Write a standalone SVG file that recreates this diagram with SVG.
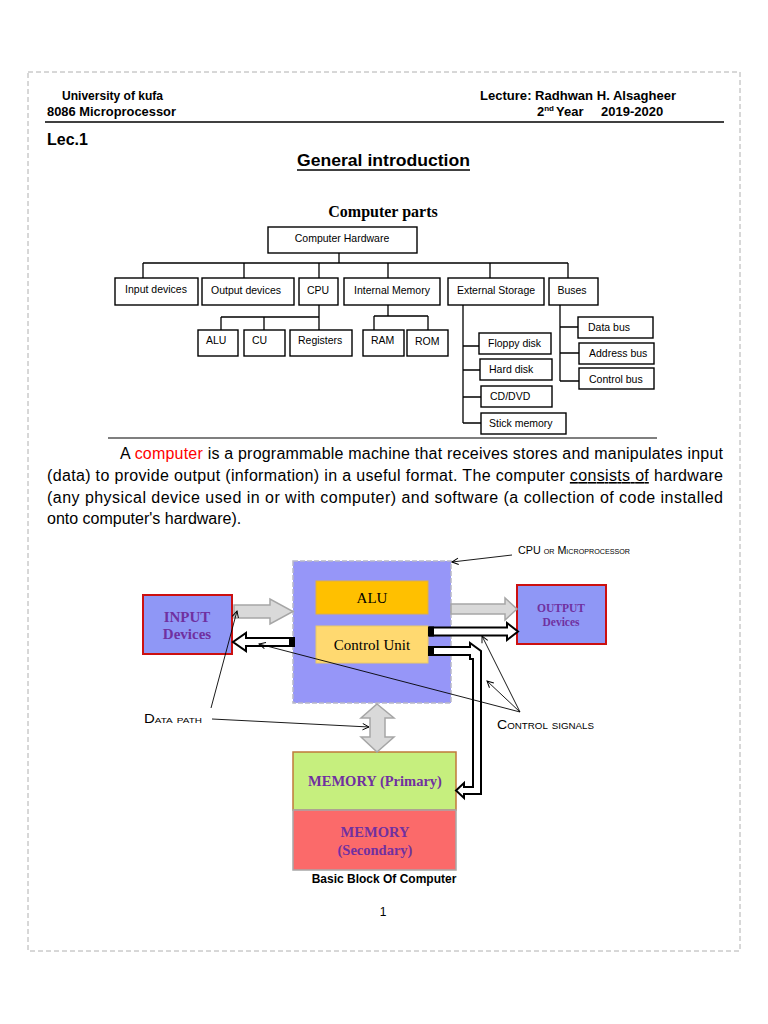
<svg xmlns="http://www.w3.org/2000/svg" width="768" height="1024" viewBox="0 0 768 1024">
<defs>
<style>
.hd{font-family:"Liberation Sans",Arial,sans-serif;font-weight:bold;fill:#000}
.tb{fill:#fff;stroke:#000;stroke-width:1.4}
.tt{font-family:"Liberation Sans",Arial,sans-serif;font-size:10.5px;fill:#000}
.tl{fill:none;stroke:#000;stroke-width:1.3}
.para{font-family:"Liberation Sans",Arial,sans-serif;font-size:16px;fill:#000}
.ser{font-family:"Liberation Serif","Times New Roman",serif}
.pur{font-family:"Liberation Serif","Times New Roman",serif;font-weight:bold;fill:#7030a0;text-anchor:middle}
.lbl{font-family:"Liberation Sans",Arial,sans-serif;font-variant:small-caps;fill:#000}
.thin{fill:none;stroke:#000;stroke-width:0.9}
.gray{fill:#d9d9d9;stroke:#a6a6a6;stroke-width:1.5}
.wa{fill:#fff;stroke:#000;stroke-width:2;stroke-linejoin:miter}
</style>
<marker id="open" viewBox="0 0 10 10" refX="9" refY="5" markerWidth="8" markerHeight="8" orient="auto" markerUnits="userSpaceOnUse">
<path d="M1,1 L9,5 L1,9" fill="none" stroke="#000" stroke-width="1.2"/>
</marker>
</defs>
<rect width="768" height="1024" fill="#fff"/>
<rect x="28" y="72" width="712" height="879" fill="none" stroke="#b0b0b0" stroke-width="1" stroke-dasharray="5 3"/>

<g id="header">
<text class="hd" x="62" y="100" font-size="13" textLength="101" lengthAdjust="spacingAndGlyphs">University of kufa</text>
<text class="hd" x="47" y="116" font-size="13" textLength="129" lengthAdjust="spacingAndGlyphs">8086 Microprocessor</text>
<text class="hd" x="480" y="100" font-size="13" textLength="196" lengthAdjust="spacingAndGlyphs">Lecture: Radhwan H. Alsagheer</text>
<text class="hd" x="537" y="116" font-size="13">2<tspan font-size="8" dy="-5">nd</tspan><tspan dy="5" x="556">Year</tspan><tspan x="601">2019-2020</tspan></text>
<line x1="45" y1="122" x2="724" y2="122" stroke="#000" stroke-width="1.3"/>
<text class="hd" x="47" y="145" font-size="17" textLength="41" lengthAdjust="spacingAndGlyphs">Lec.1</text>
<text class="hd" x="297" y="166" font-size="17" textLength="173" lengthAdjust="spacingAndGlyphs">General introduction</text>
<line x1="297" y1="170" x2="470" y2="170" stroke="#000" stroke-width="1.3"/>
<text class="ser" x="383" y="217" font-size="16" font-weight="bold" text-anchor="middle">Computer parts</text>
</g>

<g id="tree-connectors">
<path class="tl" d="M339,253 V263 M143,263 H568 M143,263 V278 M244,263 V278 M319,263 V278 M388,263 V278 M490,263 V278 M568,263 V278"/>
<path class="tl" d="M319,305 V317 M221,317 H319 M221,317 V330 M264,317 V330 M319,317 V330"/>
<path class="tl" d="M388,305 V316 M374,316 H428 M374,316 V330 M428,316 V330"/>
<path class="tl" d="M463,305 V423 M463,346 H479 M463,370 H480 M463,397 H481 M463,423 H481"/>
<path class="tl" d="M560,305 V381 M560,327 H578 M560,353 H579 M560,381 H579"/>
</g>

<g id="n-hw"><rect class="tb" x="268" y="227" width="149" height="26"/><text class="tt" x="342" y="242" text-anchor="middle">Computer Hardware</text></g>
<g id="n-input"><rect class="tb" x="115" y="278" width="83" height="27"/><text class="tt" x="156" y="293" text-anchor="middle">Input devices</text></g>
<g id="n-output"><rect class="tb" x="202" y="278" width="92" height="27"/><text class="tt" x="246" y="294" text-anchor="middle">Output devices</text></g>
<g id="n-cpu"><rect class="tb" x="299" y="278" width="39" height="27"/><text class="tt" x="318" y="294" text-anchor="middle">CPU</text></g>
<g id="n-intmem"><rect class="tb" x="344" y="278" width="96" height="27"/><text class="tt" x="392" y="294" text-anchor="middle">Internal Memory</text></g>
<g id="n-ext"><rect class="tb" x="448" y="278" width="96" height="27"/><text class="tt" x="496" y="294" text-anchor="middle">External Storage</text></g>
<g id="n-buses"><rect class="tb" x="549" y="278" width="49" height="27"/><text class="tt" x="572" y="294" text-anchor="middle">Buses</text></g>
<g id="n-alu"><rect class="tb" x="198" y="330" width="40" height="26"/><text class="tt" x="206" y="344">ALU</text></g>
<g id="n-cu"><rect class="tb" x="244" y="330" width="41" height="26"/><text class="tt" x="252" y="344">CU</text></g>
<g id="n-reg"><rect class="tb" x="290" y="330" width="62" height="26"/><text class="tt" x="298" y="344">Registers</text></g>
<g id="n-ram"><rect class="tb" x="363" y="330" width="41" height="26"/><text class="tt" x="371" y="344">RAM</text></g>
<g id="n-rom"><rect class="tb" x="407" y="330" width="41" height="26"/><text class="tt" x="415" y="345">ROM</text></g>
<g id="n-floppy"><rect class="tb" x="479" y="333" width="72" height="21"/><text class="tt" x="488" y="347">Floppy disk</text></g>
<g id="n-hard"><rect class="tb" x="480" y="359" width="72" height="21"/><text class="tt" x="489" y="373">Hard disk</text></g>
<g id="n-cd"><rect class="tb" x="481" y="386" width="71" height="21"/><text class="tt" x="490" y="400">CD/DVD</text></g>
<g id="n-stick"><rect class="tb" x="481" y="413" width="85" height="21"/><text class="tt" x="489" y="427">Stick memory</text></g>
<g id="n-data"><rect class="tb" x="578" y="317" width="75" height="21"/><text class="tt" x="588" y="331">Data bus</text></g>
<g id="n-addr"><rect class="tb" x="579" y="343" width="75" height="21"/><text class="tt" x="589" y="357">Address bus</text></g>
<g id="n-ctrl"><rect class="tb" x="579" y="368" width="75" height="21"/><text class="tt" x="589" y="383">Control bus</text></g>

<line x1="108" y1="438" x2="657" y2="438" stroke="#000" stroke-width="1.2"/>

<g id="paragraph">
<text class="para" x="120" y="459" textLength="603" lengthAdjust="spacing">A <tspan fill="#ff0000">computer</tspan> is a programmable machine that receives stores and manipulates input</text>
<text class="para" x="47" y="481" textLength="676" lengthAdjust="spacing">(data) to provide output (information) in a useful format. The computer <tspan text-decoration="underline">consists of</tspan> hardware</text>
<text class="para" x="47" y="503" textLength="676" lengthAdjust="spacing">(any physical device used in or with computer) and software (a collection of code installed</text>
<text class="para" x="47" y="524">onto computer's hardware).</text>
</g>

<g id="cpu">
<rect x="293" y="561" width="158" height="142" fill="#9696f8" stroke="#b8b8c8" stroke-width="1.5" stroke-dasharray="5 2"/>
</g>
<g id="alu"><rect x="316" y="581" width="112" height="33" fill="#ffc000" stroke="#e0b040" stroke-width="1"/><text class="ser" x="372" y="603" font-size="15" text-anchor="middle">ALU</text></g>
<g id="cu"><rect x="316" y="626" width="112" height="37" fill="#ffd970" stroke="#e8c868" stroke-width="1"/><text class="ser" x="372" y="650" font-size="15" text-anchor="middle">Control Unit</text></g>
<g id="input"><rect x="143" y="595" width="89" height="59" fill="#8f97f6" stroke="#cc1010" stroke-width="2"/><text class="pur" x="187" y="622" font-size="15">INPUT</text><text class="pur" x="187" y="639" font-size="15">Devices</text></g>
<g id="output"><rect x="517" y="585" width="89" height="59" fill="#8f97f6" stroke="#cc1010" stroke-width="2"/><text class="pur" x="561" y="612" font-size="11.5">OUTPUT</text><text class="pur" x="561" y="626" font-size="11.5">Devices</text></g>
<g id="mem-primary"><rect x="293" y="752" width="163" height="58" fill="#c6ef7e" stroke="#c07a3a" stroke-width="1.5"/><text class="pur" x="375" y="786" font-size="14.5">MEMORY (Primary)</text></g>
<g id="mem-secondary"><rect x="293" y="810" width="163" height="60" fill="#fb6a6a" stroke="#a8a8a8" stroke-width="1.5"/><text class="pur" x="375" y="837" font-size="14.5">MEMORY</text><text class="pur" x="375" y="855" font-size="14.5">(Secondary)</text></g>

<g id="connectors">
<polygon class="gray" points="234,605 270,605 270,599 293,611.5 270,624 270,618 234,618"/>
<polygon class="gray" points="451,604 505,604 505,598 517,609 505,620 505,614 451,614"/>
<polygon class="gray" points="377,704 394,718 385,718 385,737 394,737 377,752 361,737 370,737 370,718 361,718"/>
<polygon class="wa" points="293,638 246,638 246,633 233,642 246,651 246,646 293,646"/>
<rect x="289" y="637" width="6" height="10" fill="#000"/>
<polygon class="wa" points="430,627.5 507,627.5 507,623 518,631.5 507,640 507,635.5 430,635.5"/>
<rect x="428" y="626.5" width="6" height="10" fill="#000"/>
<polygon class="wa" points="430,647 470,647 470,643 481,651 481,794 464,794 464,798 456,790.5 464,783 464,787 473,787 473,659 470,659 470,655 430,655"/>
<rect x="428" y="646" width="6" height="10" fill="#000"/>
<line class="thin" x1="512" y1="555" x2="452" y2="562" marker-end="url(#open)"/>
<line class="thin" x1="520" y1="712" x2="482" y2="636" marker-end="url(#open)"/>
<line class="thin" x1="520" y1="712" x2="487" y2="681" marker-end="url(#open)"/>
<line class="thin" x1="520" y1="712" x2="259" y2="644" marker-end="url(#open)"/>
<line class="thin" x1="211" y1="708" x2="237" y2="611" marker-end="url(#open)"/>
<line class="thin" x1="212" y1="719" x2="369" y2="727" marker-end="url(#open)"/>
</g>

<g id="labels">
<text class="lbl" x="518" y="554" font-size="10.5" textLength="112" lengthAdjust="spacingAndGlyphs">CPU or Microprocessor</text>
<text class="lbl" x="497" y="729" font-size="13" textLength="97" lengthAdjust="spacingAndGlyphs">Control signals</text>
<text class="lbl" x="144" y="723" font-size="12" textLength="58" lengthAdjust="spacingAndGlyphs">Data path</text>
<text class="hd" x="384" y="883" font-size="12" text-anchor="middle">Basic Block Of Computer</text>
<text x="383" y="916" font-family="Liberation Sans,Arial,sans-serif" font-size="12" text-anchor="middle">1</text>
</g>
</svg>
